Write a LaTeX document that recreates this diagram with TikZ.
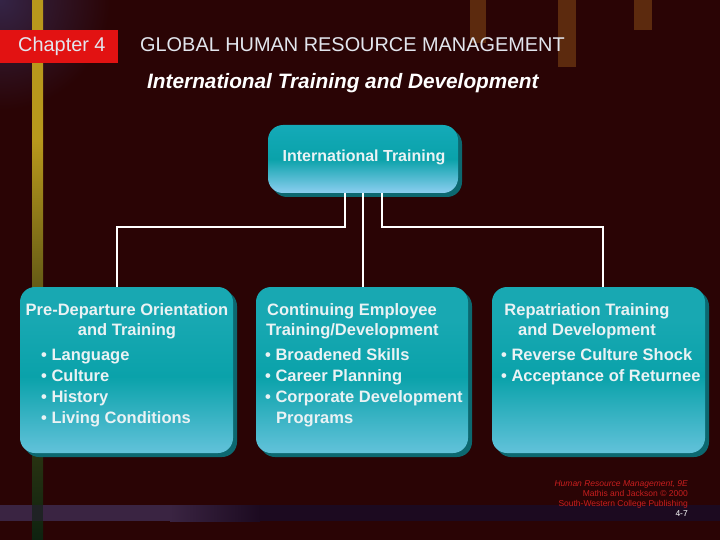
\documentclass[tikz,border=0pt]{standalone}
\usepackage{fontspec}
\setmainfont{Liberation Sans}
\usetikzlibrary{shadows}
\definecolor{bg}{RGB}{42,4,5}
\definecolor{glow}{RGB}{52,36,70}
\definecolor{gold}{RGB}{184,152,28}
\definecolor{olive}{RGB}{80,76,20}
\definecolor{dkgreen}{RGB}{14,34,16}
\definecolor{brownbar}{RGB}{92,42,14}
\definecolor{band}{RGB}{58,36,66}
\definecolor{banddk}{RGB}{28,10,32}
\definecolor{chapred}{RGB}{226,18,18}
\definecolor{titletxt}{RGB}{226,230,238}
\definecolor{boxtxt}{RGB}{234,242,244}
\definecolor{boxtop}{RGB}{24,168,178}
\definecolor{boxmid}{RGB}{10,162,170}
\definecolor{boxbot}{RGB}{98,194,218}
\definecolor{ttop}{RGB}{20,170,184}
\definecolor{tbot}{RGB}{140,206,240}
\definecolor{shad}{RGB}{12,104,112}
\definecolor{foot}{RGB}{200,30,30}
\pgfdeclareverticalshading{boxshade}{100bp}{color(0bp)=(boxbot); color(25bp)=(boxbot); color(48bp)=(boxmid); color(65bp)=(boxtop); color(100bp)=(boxtop)}
\pgfdeclareverticalshading{topshade}{100bp}{color(0bp)=(tbot); color(25bp)=(tbot); color(50bp)=(boxmid); color(75bp)=(ttop); color(100bp)=(ttop)}
\pgfdeclareverticalshading{barshade}{100bp}{color(0bp)=(dkgreen); color(25bp)=(dkgreen); color(45bp)=(olive); color(62bp)=(gold); color(100bp)=(gold)}
\tikzset{
  bx/.style={rounded corners=15pt, shading=boxshade, draw=none,
    drop shadow={shadow xshift=4pt, shadow yshift=-4pt, fill=shad, opacity=1}},
  tbx/.style={rounded corners=15pt, shading=topshade, draw=none,
    drop shadow={shadow xshift=4pt, shadow yshift=-4pt, fill=shad, opacity=1}},
  conn/.style={draw=white, line width=2.6pt},
  btxt/.style={text=boxtxt, font=\fontsize{16.5}{19}\selectfont\bfseries, inner sep=0pt},
  ftxt/.style={text=foot, font=\fontsize{8.5}{10}\selectfont, inner sep=0pt, anchor=base east}
}
\begin{document}
\begin{tikzpicture}[x=1pt,y=-1pt]
\useasboundingbox (0,0) rectangle (720,540);
\fill[bg] (0,0) rectangle (720,540);
\begin{scope}
\clip (0,0) rectangle (720,540);
\shade[inner color=glow, outer color=bg] (-110,-110) rectangle (110,110);
\end{scope}
% decorative bars
\shade[shading=barshade] (32,0) rectangle (43,540);
\fill[brownbar] (470,0) rectangle (486,43);
\fill[brownbar] (558,0) rectangle (576,67);
\fill[brownbar] (634,0) rectangle (652,30);
\shade[left color=band, right color=banddk] (170,505) rectangle (260,521);
\fill[band] (0,505) rectangle (170,521);
\fill[banddk] (260,505) rectangle (720,521);
\fill[dkgreen, opacity=0.6] (32,505) rectangle (43,521);
% header
\fill[chapred] (0,30) rectangle (118,63);
\node[anchor=base west, inner sep=0pt, text=titletxt, font=\fontsize{19.9}{22}\selectfont] (chap) at (18,52) {Chapter 4};
\node[anchor=base west, inner sep=0pt, text=titletxt, font=\fontsize{19.9}{22}\selectfont] (ttl) at (140,52) {GLOBAL HUMAN RESOURCE MANAGEMENT};
\node[anchor=base west, inner sep=0pt, text=white, font=\fontsize{20.8}{24}\selectfont\bfseries\itshape] (sub) at (147,89) {International Training and Development};
% boxes
\node[tbx, minimum width=190pt, minimum height=68pt] (it) at (363,159) {};
\node[bx, minimum width=213pt, minimum height=166pt] (b1) at (126.5,370) {};
\node[bx, minimum width=212pt, minimum height=166pt] (b2) at (362,370) {};
\node[bx, minimum width=213pt, minimum height=166pt] (b3) at (598.5,370) {};
% connectors
\draw[conn] ([xshift=-18pt]it.south) -- ++(0,34) -| ([xshift=-9.5pt]b1.north);
\draw[conn] ([xshift=0pt]it.south) -- (it.south |- b2.north);
\draw[conn] ([xshift=19pt]it.south) -- ++(0,34) -| ([xshift=4.5pt]b3.north);
% top box text
\node[btxt, font=\fontsize{16}{19}\selectfont\bfseries, anchor=base] (itt) at (364,162) {International Training};
% box 1 text
\node[btxt, anchor=base] (h11) at (127,315) {Pre-Departure Orientation};
\node[btxt, anchor=base] (h12) at (127,335) {and Training};
\node[btxt, anchor=base west] (l11) at (41,360) {• Language};
\node[btxt, anchor=base west] (l12) at (41,381) {• Culture};
\node[btxt, anchor=base west] (l13) at (41,402) {• History};
\node[btxt, anchor=base west] (l14) at (41,423) {• Living Conditions};
% box 2 text
\node[btxt, anchor=base west] (h21) at (267,315) {Continuing Employee};
\node[btxt, anchor=base west] (h22) at (266,335) {Training/Development};
\node[btxt, anchor=base west] (l21) at (265,360) {• Broadened Skills};
\node[btxt, anchor=base west] (l22) at (265,381) {• Career Planning};
\node[btxt, anchor=base west] (l23) at (265,402) {• Corporate Development};
\node[btxt, anchor=base west] (l24) at (276,423) {Programs};
% box 3 text
\node[btxt, anchor=base] (h31) at (587,315) {Repatriation Training};
\node[btxt, anchor=base] (h32) at (587,335) {and Development};
\node[btxt, anchor=base west] (l31) at (501,360) {• Reverse Culture Shock};
\node[btxt, anchor=base west] (l32) at (501,381) {• Acceptance of Returnee};
% footer
\node[ftxt, font=\fontsize{8.5}{10}\selectfont\itshape] (f1) at (688,486) {Human Resource Management, 9E};
\node[ftxt] (f2) at (688,496) {Mathis and Jackson © 2000};
\node[ftxt] (f3) at (688,506) {South-Western College Publishing};
\node[ftxt, text=white] (f4) at (688,516) {4-7};
\end{tikzpicture}
\end{document}
